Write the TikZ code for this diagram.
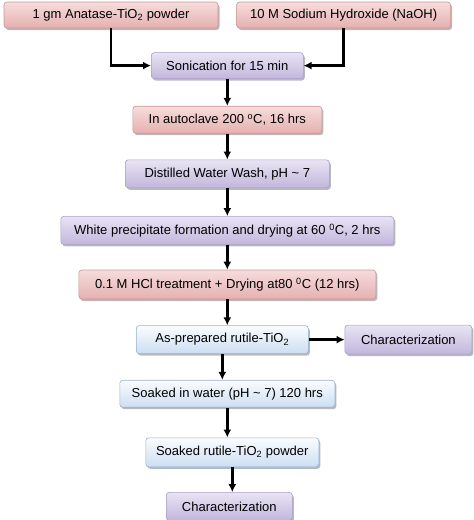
\documentclass[tikz,border=0pt]{standalone}
\usepackage{fontspec}
\setmainfont{Liberation Sans}
\usetikzlibrary{positioning}
\usetikzlibrary{shadows}
\usetikzlibrary{arrows.meta}
\usetikzlibrary{calc}
\definecolor{pinktop}{RGB}{247,220,220}
\definecolor{pinkbot}{RGB}{230,176,176}
\definecolor{pinkline}{RGB}{205,150,150}
\definecolor{purptop}{RGB}{232,228,244}
\definecolor{purpbot}{RGB}{194,182,220}
\definecolor{purpline}{RGB}{170,158,200}
\definecolor{bluetop}{RGB}{250,252,255}
\definecolor{bluebot}{RGB}{205,222,242}
\definecolor{blueline}{RGB}{150,178,210}
\tikzset{
  stepnode/.style = {shape=rectangle, rounded corners=3pt,
                     draw, line width=0.6pt, align=center, inner sep=0pt,
                     minimum height=27pt,
                     font=\fontsize{13}{15}\selectfont,
                     drop shadow={shadow xshift=1.5pt, shadow yshift=-2pt,
                                  fill=gray!60, opacity=0.9}},
  pinkstep/.style = {stepnode, draw=pinkline, top color=pinktop, bottom color=pinkbot},
  purpstep/.style = {stepnode, draw=purpline, top color=purptop, bottom color=purpbot},
  bluestep/.style = {stepnode, draw=blueline, top color=bluetop, bottom color=bluebot},
  flow/.style     = {-{Latex[length=8pt,width=8pt]}, line width=2.4pt}
}

\begin{document}
\begin{tikzpicture}
  \useasboundingbox (0,0) rectangle (474pt,-520pt);
  \node [pinkstep, minimum width=214pt, minimum height=26pt] (anatase) at (111pt,-15pt) {1 gm Anatase-TiO\textsubscript{2} powder};
  \node [pinkstep, minimum width=214pt, minimum height=26pt] (naoh) [right=18pt of anatase] {10 M Sodium Hydroxide (NaOH)};
  \coordinate (mid) at ($(anatase.south)!0.5!(naoh.south)$);
  \node [purpstep, minimum width=152pt, minimum height=26pt] (sonic) [below=24pt of mid] {Sonication for 15 min};
  \node [pinkstep, minimum width=189pt] (autoclave) [below=27pt of sonic] {In autoclave 200 \textsuperscript{o}C, 16 hrs};
  \node [purpstep, minimum width=204pt, minimum height=28pt] (wash) [below=26pt of autoclave] {Distilled Water Wash, pH \textasciitilde{} 7};
  \node [purpstep, minimum width=333pt, minimum height=28pt] (precip) [below=28pt of wash] {White precipitate formation and drying at 60 \textsuperscript{0}C, 2 hrs};
  \node [pinkstep, minimum width=297pt, minimum height=29pt] (hcl) [below=25pt of precip] {0.1 M HCl treatment + Drying at80 \textsuperscript{0}C (12 hrs)};
  \node [bluestep, minimum width=172pt, minimum height=28pt] (asprep) [below=26pt of hcl, xshift=-5pt] {As-prepared rutile-TiO\textsubscript{2}};
  \node [purpstep, minimum width=127pt, minimum height=29pt] (charright) [right=36pt of asprep] {Characterization};
  \node [bluestep, minimum width=215pt] (soakwater) [below=26pt of asprep, xshift=5pt] {Soaked in water (pH \textasciitilde{} 7) 120 hrs};
  \node [bluestep, minimum width=173pt, minimum height=29pt] (soakrutile) [below=30pt of soakwater, xshift=5pt] {Soaked rutile-TiO\textsubscript{2} powder};
  \node [purpstep, minimum width=126pt, minimum height=28pt] (charbottom) [below=25pt of soakrutile, xshift=-3pt] {Characterization};
  % connectors
  \draw [flow] (anatase.south) |- (sonic.west);
  \draw [flow] (naoh.south) |- (sonic.east);
  \draw [flow] (sonic.south) -- (sonic.south |- autoclave.north);
  \draw [flow] (autoclave.south) -- (autoclave.south |- wash.north);
  \draw [flow] (wash.south) -- (wash.south |- precip.north);
  \draw [flow] (precip.south) -- (precip.south |- hcl.north);
  \draw [flow] (hcl.south) -- (hcl.south |- asprep.north);
  \draw [flow] (asprep.east) -- (charright.west);
  \draw [flow] (asprep.south) -- (asprep.south |- soakwater.north);
  \draw [flow] (soakwater.south) -- (soakwater.south |- soakrutile.north);
  \draw [flow] (soakrutile.south) -- (soakrutile.south |- charbottom.north);
\end{tikzpicture}
\end{document}
